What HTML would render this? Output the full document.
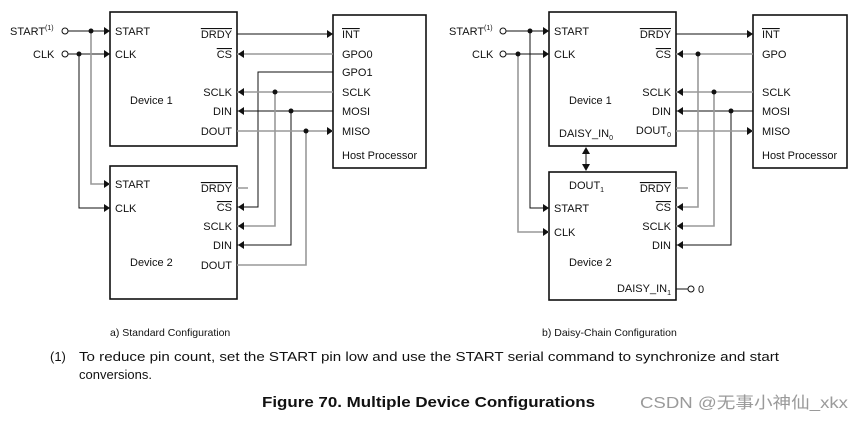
<!DOCTYPE html>
<html><head><meta charset="utf-8"><style>
html,body{margin:0;padding:0;background:#fff;}
svg{display:block;}
text{font-family:"Liberation Sans",Arial,sans-serif;font-size:11px;fill:#111;}
.r{text-anchor:end;}
.k{stroke:#111;stroke-width:1;fill:none;}
.g{stroke:#999;stroke-width:1.6;fill:none;}
.b{stroke:#111;stroke-width:1.6;fill:none;}
</style></head><body>
<svg width="864" height="421" viewBox="0 0 864 421">
<!-- LEFT DIAGRAM -->
<rect class="b" x="110" y="12" width="127" height="134"/>
<rect class="b" x="110" y="166" width="127" height="133"/>
<rect class="b" x="333" y="15" width="93" height="153"/>
<circle class="k" cx="65" cy="31" r="3"/><circle class="k" cx="65" cy="54" r="3"/>
<path class="k" d="M68 31H110M68 54H110M79 54V208H110"/>
<path class="g" d="M91 31V184H110"/>
<path class="k" d="M237 34H333M333 72H258V207H237M333 111H237M291 111V245H237"/>
<path class="g" d="M333 54H237M333 92H237M275 92V226H237M237 131H333M306 131V265H237M237 188H248"/>
<g fill="#111">
<circle cx="91" cy="31" r="2.5"/><circle cx="79" cy="54" r="2.5"/>
<circle cx="275" cy="92" r="2.5"/><circle cx="291" cy="111" r="2.5"/><circle cx="306" cy="131" r="2.5"/>
<polygon points="104,27 110,31 104,35"/><polygon points="104,50 110,54 104,58"/>
<polygon points="104,180 110,184 104,188"/><polygon points="104,204 110,208 104,212"/>
<polygon points="327,30 333,34 327,38"/><polygon points="327,127 333,131 327,135"/>
<polygon points="244,50 238,54 244,58"/><polygon points="244,88 238,92 244,96"/><polygon points="244,107 238,111 244,115"/>
<polygon points="244,203 238,207 244,211"/><polygon points="244,222 238,226 244,230"/><polygon points="244,241 238,245 244,249"/>
</g>
<text x="10" y="35">START<tspan font-size="7" dy="-5">(1)</tspan></text>
<text x="33" y="58">CLK</text>
<text x="115" y="35">START</text><text x="115" y="58">CLK</text>
<text class="r" x="232" y="38" text-decoration="overline">DRDY</text>
<text class="r" x="232" y="58" text-decoration="overline">CS</text>
<text class="r" x="232" y="96">SCLK</text><text class="r" x="232" y="115">DIN</text><text class="r" x="232" y="135">DOUT</text>
<text x="130" y="104">Device 1</text>
<text x="115" y="188">START</text><text x="115" y="212">CLK</text>
<text class="r" x="232" y="192" text-decoration="overline">DRDY</text>
<text class="r" x="232" y="211" text-decoration="overline">CS</text>
<text class="r" x="232" y="230">SCLK</text><text class="r" x="232" y="249">DIN</text><text class="r" x="232" y="269">DOUT</text>
<text x="130" y="266">Device 2</text>
<text x="342" y="38" text-decoration="overline">INT</text><text x="342" y="58">GPO0</text><text x="342" y="76">GPO1</text>
<text x="342" y="96">SCLK</text><text x="342" y="115">MOSI</text><text x="342" y="135">MISO</text>
<text x="342" y="159">Host Processor</text>

<!-- RIGHT DIAGRAM -->
<rect class="b" x="549" y="12" width="127" height="134"/>
<rect class="b" x="549" y="172" width="127" height="128"/>
<rect class="b" x="753" y="15" width="94" height="153"/>
<circle class="k" cx="503" cy="31" r="3"/><circle class="k" cx="503" cy="54" r="3"/>
<circle class="k" cx="691" cy="289" r="3"/>
<path class="k" d="M506 31H549M506 54H549M530 31V208H549M676 34H753M753 111H676M731 111V245H676M676 289H688M586 150V168"/>
<path class="g" d="M518 54V232H549M753 54H676M698 54V207H676M753 92H676M714 92V226H676M676 131H753M676 188H688"/>
<g fill="#111">
<circle cx="530" cy="31" r="2.5"/><circle cx="518" cy="54" r="2.5"/>
<circle cx="698" cy="54" r="2.5"/><circle cx="714" cy="92" r="2.5"/><circle cx="731" cy="111" r="2.5"/>
<polygon points="543,27 549,31 543,35"/><polygon points="543,50 549,54 543,58"/>
<polygon points="543,204 549,208 543,212"/><polygon points="543,228 549,232 543,236"/>
<polygon points="747,30 753,34 747,38"/><polygon points="747,127 753,131 747,135"/>
<polygon points="683,50 677,54 683,58"/><polygon points="683,88 677,92 683,96"/><polygon points="683,107 677,111 683,115"/>
<polygon points="683,203 677,207 683,211"/><polygon points="683,222 677,226 683,230"/><polygon points="683,241 677,245 683,249"/>
<polygon points="582,154 586,147 590,154"/><polygon points="582,164 586,171 590,164"/>
</g>
<text x="449" y="35">START<tspan font-size="7" dy="-5">(1)</tspan></text>
<text x="472" y="58">CLK</text>
<text x="554" y="35">START</text><text x="554" y="58">CLK</text>
<text class="r" x="671" y="38" text-decoration="overline">DRDY</text>
<text class="r" x="671" y="58" text-decoration="overline">CS</text>
<text class="r" x="671" y="96">SCLK</text><text class="r" x="671" y="115">DIN</text>
<text class="r" x="671" y="134">DOUT<tspan font-size="7" dy="3">0</tspan></text>
<text x="569" y="104">Device 1</text>
<text x="559" y="137">DAISY_IN<tspan font-size="7" dy="3">0</tspan></text>
<text x="569" y="189">DOUT<tspan font-size="7" dy="3">1</tspan></text>
<text class="r" x="671" y="192" text-decoration="overline">DRDY</text>
<text class="r" x="671" y="211" text-decoration="overline">CS</text>
<text class="r" x="671" y="230">SCLK</text><text class="r" x="671" y="249">DIN</text>
<text x="554" y="212">START</text><text x="554" y="236">CLK</text>
<text x="569" y="266">Device 2</text>
<text class="r" x="671" y="292">DAISY_IN<tspan font-size="7" dy="3">1</tspan></text>
<text x="698" y="293">0</text>
<text x="762" y="38" text-decoration="overline">INT</text><text x="762" y="58">GPO</text>
<text x="762" y="96">SCLK</text><text x="762" y="115">MOSI</text><text x="762" y="135">MISO</text>
<text x="762" y="159">Host Processor</text>

<!-- CAPTIONS -->
<text x="110" y="336" style="font-size:10.5px">a) Standard Configuration</text>
<text x="542" y="336" style="font-size:10.5px">b) Daisy-Chain Configuration</text>
<text x="50" y="361" style="font-size:13px">(1)</text>
<text x="79" y="361" style="font-size:13px" textLength="700" lengthAdjust="spacingAndGlyphs">To reduce pin count, set the START pin low and use the START serial command to synchronize and start</text>
<text x="79" y="379" style="font-size:13px">conversions.</text>
<text x="262" y="407" style="font-size:15px;font-weight:bold" textLength="333" lengthAdjust="spacingAndGlyphs">Figure 70.  Multiple Device Configurations</text>
<text x="640" y="408" style="font-size:16px;fill:#9a9a9a;font-family:'Liberation Sans','Noto Sans CJK SC',sans-serif" textLength="208" lengthAdjust="spacingAndGlyphs">CSDN @无事小神仙_xkx</text>
</svg>
</body></html>
